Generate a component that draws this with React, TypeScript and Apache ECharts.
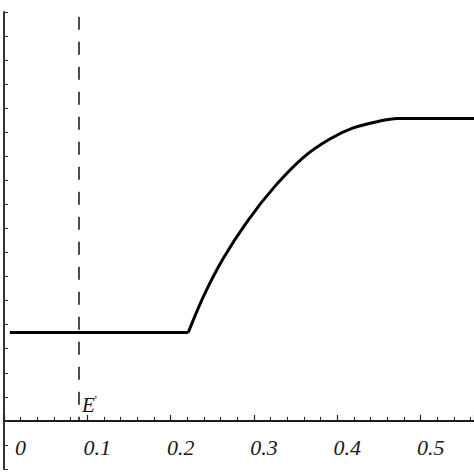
import { useEffect, useRef } from "react";
import * as echarts from "echarts";

// flat stretch before the kink
const flatX = [0.007, 0.221];
const flatY = [3.67, 3.67];
// rising part, from the kink on
const riseX = [0.221, 0.239, 0.263, 0.292, 0.325, 0.359, 0.391, 0.419, 0.449, 0.472, 0.564];
const riseY = [3.67, 5.15, 6.75, 8.3, 9.75, 10.95, 11.72, 12.18, 12.45, 12.57, 12.57];

// dashed marker line at E'
const markerX = 0.09;
const markerTop = 16.8;
const markerLabel = "E";

const xMin = 0;
const xMax = 0.564;
const xStep = 0.1;
const yMin = -2;
const yMax = 17;
const yStep = 1;

function App() {
  const chartRef = useRef<HTMLDivElement>(null);

  useEffect(() => {
    if (!chartRef.current) return;
    const chart = echarts.init(chartRef.current, null, { renderer: "svg" });

    const serif = "'Liberation Serif', 'DejaVu Serif', serif";
    const curveStyle = { color: "#000", width: 3 };
    const tickFont = { fontFamily: serif, fontStyle: "italic", fontSize: 22, color: "#1a1a1a" };

    chart.setOption({
      animation: false,
      backgroundColor: "#fff",
      grid: { left: 4, right: 0, top: 12, bottom: 5, outerBoundsMode: "none", containLabel: false },
      xAxis: {
        type: "value",
        min: xMin,
        max: xMax,
        interval: xStep,
        axisLine: { onZero: true, lineStyle: { color: "#1a1a1a", width: 2 } },
        axisTick: { inside: true, length: 6, lineStyle: { color: "#222", width: 1.2 } },
        minorTick: { show: true, splitNumber: 5, length: 4, lineStyle: { color: "#222", width: 1 } },
        splitLine: { show: false },
        axisLabel: {
          showMaxLabel: false,
          align: "center",
          // labels stay at the grid's bottom edge, pull them up under the zero line
          margin: -33,
          ...tickFont,
          formatter: (v: number) => (v === 0 ? "{z|0}" : `{a|${v.toFixed(1)}}`),
          rich: {
            z: { ...tickFont, padding: [0, 0, 0, 33] },
            a: { ...tickFont, padding: [0, 0, 0, 20] },
          },
        },
      },
      yAxis: {
        type: "value",
        min: yMin,
        max: yMax,
        interval: yStep,
        axisLine: { show: true, onZero: false, lineStyle: { color: "#333", width: 2 } },
        axisTick: { inside: true, length: 4, lineStyle: { color: "#333", width: 1 } },
        axisLabel: { show: false },
        splitLine: { show: false },
      },
      series: [
        {
          type: "line",
          data: flatX.map((x, i) => [x, flatY[i]]),
          symbol: "none",
          lineStyle: curveStyle,
        },
        {
          type: "line",
          data: riseX.map((x, i) => [x, riseY[i]]),
          smooth: 0.3,
          symbol: "none",
          lineStyle: curveStyle,
        },
        {
          type: "line",
          data: [
            [markerX, markerTop],
            {
              value: [markerX, 0],
              label: {
                show: true,
                position: "right",
                distance: 3,
                offset: [0, -16],
                formatter: `{e|${markerLabel}}{p|'}`,
                rich: {
                  e: { fontFamily: serif, fontStyle: "italic", fontSize: 21, color: "#111" },
                  p: { fontFamily: serif, fontSize: 12, color: "#111", verticalAlign: "top" },
                },
              },
            },
          ],
          symbol: "circle",
          symbolSize: 0,
          lineStyle: { color: "#111", width: 1.5, type: [13, 12] },
        },
      ],
    });

    return () => {
      chart.dispose();
    };
  }, []);

  return (
    <div
      ref={chartRef}
      style={{ position: "fixed", left: 0, top: 0, width: "474px", height: "474px" }}
    />
  );
}

export default App;
